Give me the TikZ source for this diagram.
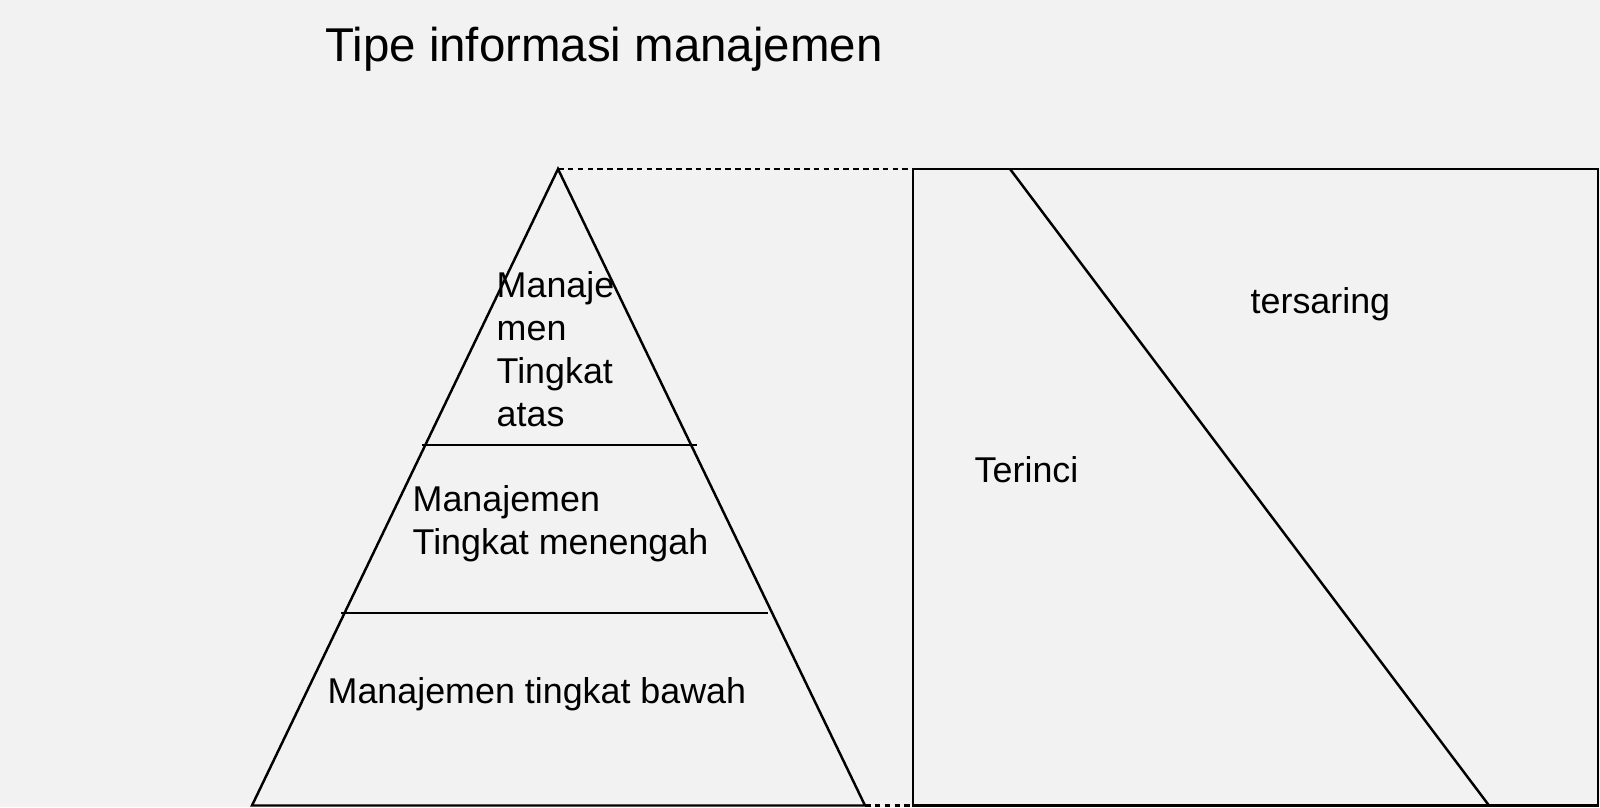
\documentclass[tikz,border=0pt]{standalone}
\usepackage{fontspec}
\setmainfont{Liberation Sans}
\usepackage{tikz}
\usetikzlibrary{positioning}

\definecolor{paper}{RGB}{242,242,242}

\tikzset{
	edge/.style = {line width = 0.7pt},
	guide/.style = {line width = 0.7pt, dash pattern = on 1.6pt off 1.2pt},
	label/.style = {anchor = west, inner sep = 0pt, align = left, font = \fontsize{10.2}{12.2}\selectfont}
}

\begin{document}
\begin{tikzpicture}[scale = 0.1]
	
		\fill[paper] (0, 0) rectangle (160, 80.7);
		\useasboundingbox (0, 0) rectangle (160, 80.7);
		
		\node[font = \fontsize{13.5}{16}\selectfont] (title) at (60.4, 75.8) {Tipe informasi manajemen};
		
		% piramida
		\draw[edge] (55.8, 63.8) -- (25.2, 0.15) -- (86.5, 0.15) -- cycle;
		\draw[edge] (42.2, 36.2) -- (69.7, 36.2);
		\draw[edge] (34.1, 19.4) -- (76.8, 19.4);
		
		\node[label] (atas) at (49.6, 45.8) {Manaje\\men\\Tingkat\\atas};
		\node[label] (menengah) at (41.2, 28.3) {Manajemen\\Tingkat menengah};
		\node[label] (bawah) at (32.7, 11.3) {Manajemen tingkat bawah};
		
		% kotak informasi
		\draw[edge] (91.3, 0.15) rectangle (159.8, 63.8);
		\draw[edge] (101.0, 63.8) -- (148.9, 0.15);
		
		\node[label] (terinci) at (97.4, 33.7) {Terinci};
		\node[label] (tersaring) at (125.0, 50.3) {tersaring};
		
		\draw[guide] (55.8, 63.8) -- (91.3, 63.8);
		\draw[guide] (86.5, 0.15) -- (91.3, 0.15);
	\end{tikzpicture}
\end{document}
